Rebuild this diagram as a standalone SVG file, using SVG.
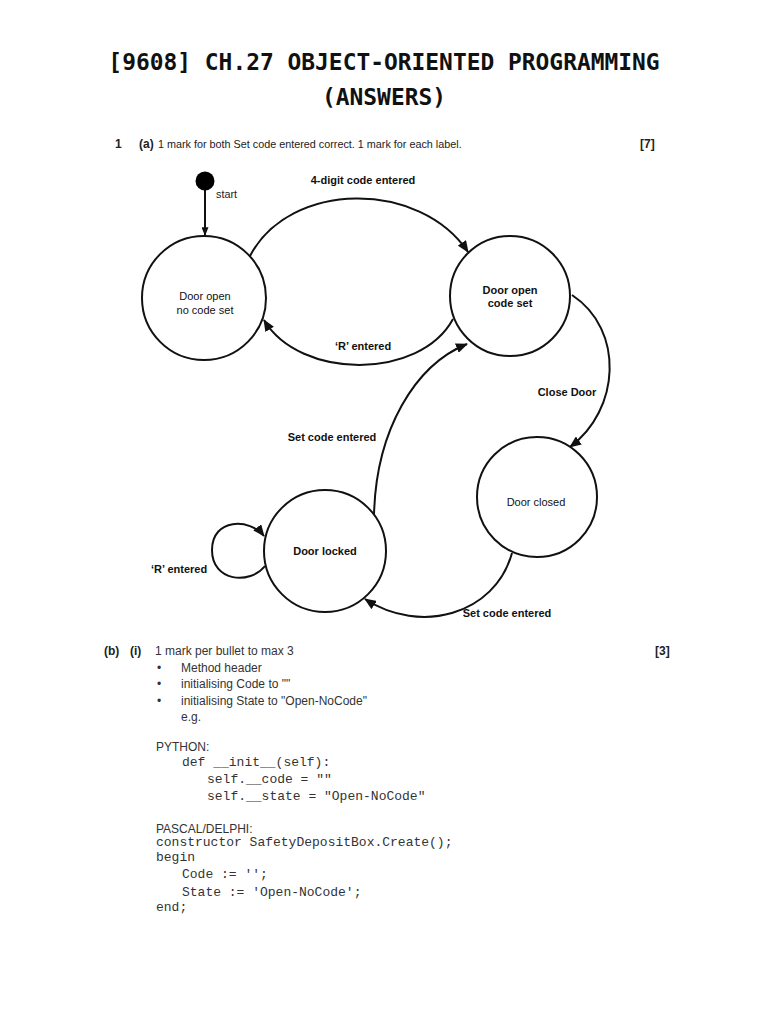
<svg xmlns="http://www.w3.org/2000/svg" width="768" height="1024" viewBox="0 0 768 1024">
<style>
.title{font-family:"DejaVu Sans Mono","Liberation Mono",monospace;font-weight:bold;font-size:22.9px;fill:#111;text-anchor:middle}
.hb{font-family:"Liberation Sans",Arial,sans-serif;font-weight:bold;font-size:12px;fill:#222}
.small{font-family:"Liberation Sans",Arial,sans-serif;font-size:10.8px;fill:#222}
.body{font-family:"Liberation Sans",Arial,sans-serif;font-size:12px;fill:#333}
.code{font-family:"Liberation Mono","Courier New",monospace;font-size:13px;fill:#333}
.lbl{font-family:"Liberation Sans",Arial,sans-serif;font-weight:bold;font-size:11px;fill:#111;text-anchor:middle}
.lblr{font-family:"Liberation Sans",Arial,sans-serif;font-size:11px;fill:#111;text-anchor:middle}
.state{fill:#fff;stroke:#111;stroke-width:2}
.edge{fill:none;stroke:#111;stroke-width:2}
</style>
<defs>
<marker id="ah" viewBox="0 0 12 10" refX="11" refY="5" markerWidth="12" markerHeight="10" markerUnits="userSpaceOnUse" orient="auto">
<path d="M0,0 L12,5 L0,10 Z" fill="#111"/>
</marker>
<marker id="ahs" viewBox="0 0 10 8" refX="9" refY="4" markerWidth="9" markerHeight="7" markerUnits="userSpaceOnUse" orient="auto">
<path d="M0,0 L10,4 L0,8 Z" fill="#111"/>
</marker>
</defs>
<rect width="768" height="1024" fill="#fff"/>

<text class="title" x="384" y="70">[9608] CH.27 OBJECT-ORIENTED PROGRAMMING</text>
<text class="title" x="384" y="105">(ANSWERS)</text>

<text class="hb" x="115" y="148">1</text>
<text class="hb" x="139" y="148">(a)</text>
<text class="small" x="158" y="148">1 mark for both Set code entered correct. 1 mark for each label.</text>
<text class="hb" x="640" y="148">[7]</text>

<g id="connectors">
<line class="edge" x1="205" y1="190" x2="205" y2="235" stroke-width="1.3" marker-end="url(#ahs)"/>
<path class="edge" d="M250,256 C290,180 420,180 468,252" marker-end="url(#ah)"/>
<path class="edge" d="M453,319 C420,380 300,380 264,320" marker-end="url(#ah)"/>
<path class="edge" d="M572,295 C625,330 620,410 570,447" marker-end="url(#ah)"/>
<path class="edge" d="M374,515 C376,430 415,365 467,344" marker-end="url(#ah)"/>
<path class="edge" d="M512,553 C495,615 420,635 365,599" marker-end="url(#ah)"/>
<path class="edge" d="M265,566 C250,585 212,582 212,550 C212,518 250,518 264,536" marker-end="url(#ah)"/>
<text class="lbl" x="363" y="184">4-digit code entered</text>
<text class="lbl" x="363" y="350">‘R’ entered</text>
<text class="lbl" x="567" y="396">Close Door</text>
<text class="lbl" x="332" y="441">Set code entered</text>
<text class="lbl" x="507" y="617">Set code entered</text>
<text class="lbl" x="179" y="573">‘R’ entered</text>
<text class="small" x="216" y="198" font-size="8">start</text>
</g>

<g id="start">
<circle cx="205" cy="181" r="9.5" fill="#000"/>
</g>
<g id="door-open-no-code">
<circle class="state" cx="204" cy="298" r="62"/>
<text class="lblr" x="205" y="300">Door open</text>
<text class="lblr" x="205" y="314">no code set</text>
</g>
<g id="door-open-code-set">
<circle class="state" cx="510" cy="296" r="60"/>
<text class="lbl" x="510" y="294">Door open</text>
<text class="lbl" x="510" y="307">code set</text>
</g>
<g id="door-closed">
<circle class="state" cx="537" cy="497" r="60"/>
<text class="lblr" x="536" y="506">Door closed</text>
</g>
<g id="door-locked">
<circle class="state" cx="325" cy="551" r="61"/>
<text class="lbl" x="325" y="555">Door locked</text>
</g>

<g id="part-b">
<text class="hb" x="104" y="655">(b)</text>
<text class="hb" x="130" y="655">(i)</text>
<text class="body" x="155" y="655">1 mark per bullet to max 3</text>
<text class="hb" x="655" y="655">[3]</text>
<text class="body" x="157" y="672">•</text>
<text class="body" x="181" y="672">Method header</text>
<text class="body" x="157" y="688">•</text>
<text class="body" x="181" y="688">initialising Code to ""</text>
<text class="body" x="157" y="705">•</text>
<text class="body" x="181" y="705">initialising State to "Open-NoCode"</text>
<text class="body" x="181" y="721">e.g.</text>

<text class="body" x="156" y="751">PYTHON:</text>
<text class="code" x="182" y="766" xml:space="preserve">def __init__(self):</text>
<text class="code" x="207" y="783" xml:space="preserve">self.__code = ""</text>
<text class="code" x="207" y="800" xml:space="preserve">self.__state = "Open-NoCode"</text>

<text class="body" x="156" y="833">PASCAL/DELPHI:</text>
<text class="code" x="156" y="846">constructor SafetyDepositBox.Create();</text>
<text class="code" x="156" y="861">begin</text>
<text class="code" x="182" y="878">Code := '';</text>
<text class="code" x="182" y="896">State := 'Open-NoCode';</text>
<text class="code" x="156" y="911">end;</text>
</g>
</svg>
